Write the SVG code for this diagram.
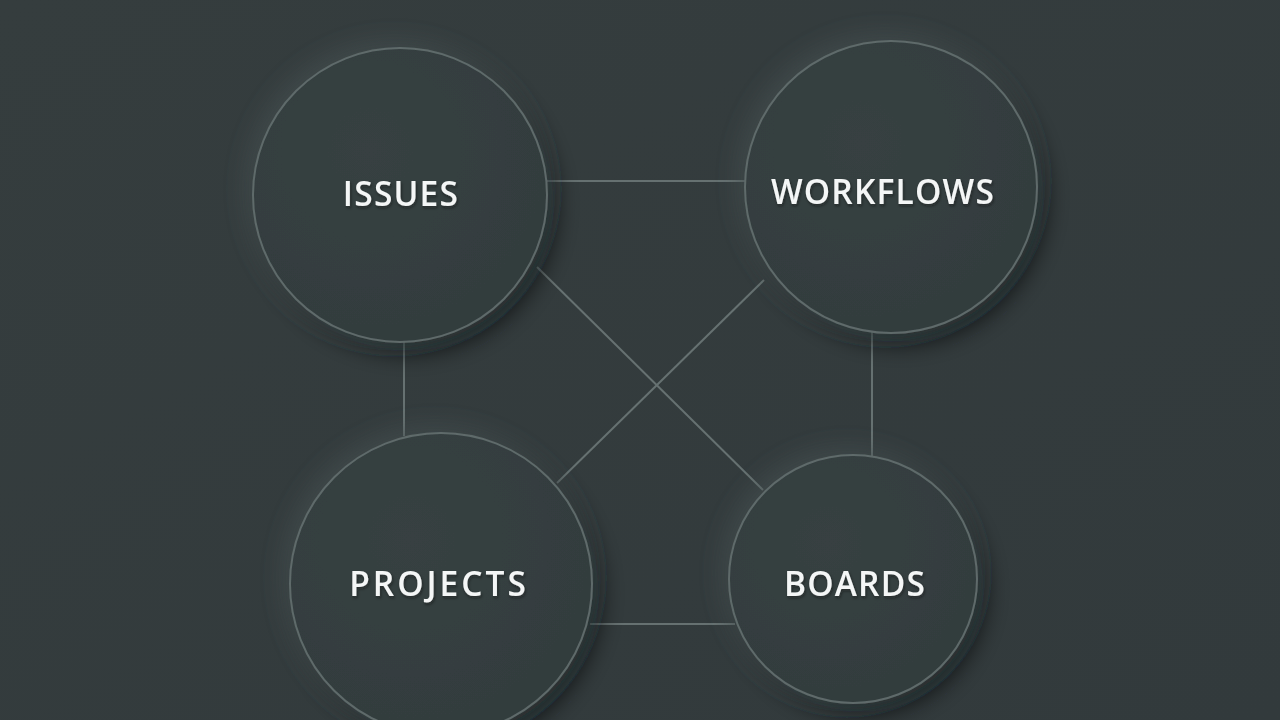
<svg xmlns="http://www.w3.org/2000/svg" width="1280" height="720" viewBox="0 0 1280 720">
<defs>
<linearGradient id="bg" x1="0" y1="0" x2="1" y2="1">
<stop offset="0" stop-color="#353d3e"/>
<stop offset="1" stop-color="#323a3c"/>
</linearGradient>
<radialGradient id="fillg" cx="0.4" cy="0.35" r="0.75">
<stop offset="0" stop-color="#374142"/>
<stop offset="1" stop-color="#323c3d"/>
</radialGradient>
<filter id="sh" x="-30%" y="-30%" width="160%" height="160%">
<feGaussianBlur in="SourceAlpha" stdDeviation="12" result="b"/>
<feOffset in="b" dx="8" dy="10" result="o"/>
<feFlood flood-color="#1c2223" flood-opacity="0.65"/>
<feComposite in2="o" operator="in" result="d"/>
<feOffset in="b" dx="-6" dy="-6" result="o2"/>
<feFlood flood-color="#4a5556" flood-opacity="0.55"/>
<feComposite in2="o2" operator="in" result="l"/>
<feMerge><feMergeNode in="d"/><feMergeNode in="l"/><feMergeNode in="SourceGraphic"/></feMerge>
</filter>
<filter id="ts" x="-10%" y="-30%" width="120%" height="160%">
<feDropShadow dx="1" dy="2" stdDeviation="1.5" flood-color="#101415" flood-opacity="0.5"/>
</filter>
</defs>
<style>
.node{fill:url(#fillg);stroke:#5e6a6a;stroke-width:2}
.lbl{font-family:"Open Sans",Lato,"Liberation Sans",sans-serif;font-weight:600;font-size:33.5px;letter-spacing:1.2px;fill:#f4f6f6;text-anchor:middle}
.edge{stroke:#667171;stroke-width:2;fill:none}
</style>
<rect width="1280" height="720" fill="url(#bg)"/>
<g id="connectors">
<line class="edge" x1="547" y1="181" x2="746" y2="181"/>
<line class="edge" x1="404" y1="342" x2="404" y2="436"/>
<line class="edge" x1="872" y1="332" x2="872" y2="456"/>
<line class="edge" x1="590" y1="624" x2="735" y2="624"/>
<line class="edge" x1="537" y1="267" x2="763" y2="490"/>
<line class="edge" x1="557" y1="483" x2="764" y2="280"/>
</g>
<g id="issues">
<circle class="node" cx="400" cy="195" r="147" filter="url(#sh)"/>
<text class="lbl" x="401" y="206" filter="url(#ts)">ISSUES</text>
</g>
<g id="workflows">
<circle class="node" cx="891" cy="187" r="146" filter="url(#sh)"/>
<text class="lbl" x="883" y="204" filter="url(#ts)">WORKFLOWS</text>
</g>
<g id="projects">
<circle class="node" cx="441" cy="584" r="151" filter="url(#sh)"/>
<text class="lbl" x="439" y="596" style="letter-spacing:3px" filter="url(#ts)">PROJECTS</text>
</g>
<g id="boards">
<circle class="node" cx="853" cy="579" r="124" filter="url(#sh)"/>
<text class="lbl" x="855" y="596" filter="url(#ts)">BOARDS</text>
</g>
</svg>
